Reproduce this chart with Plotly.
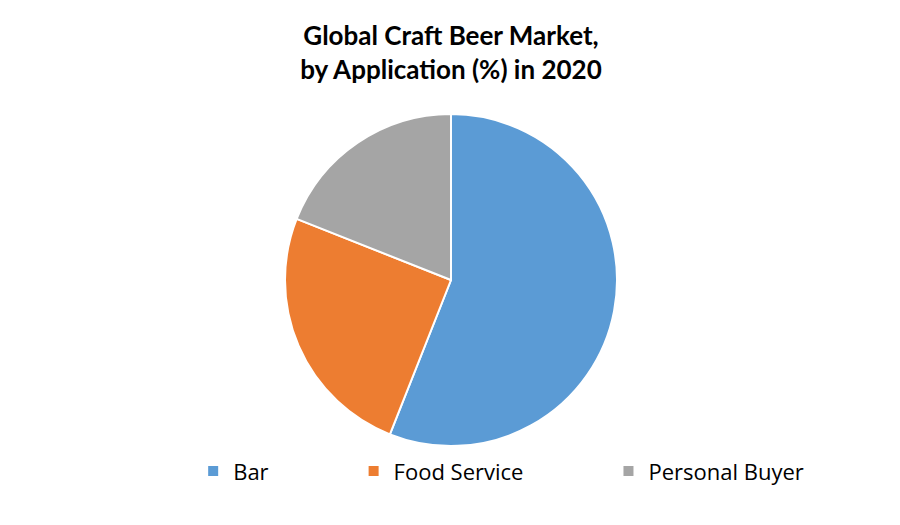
import plotly.graph_objects as go

# Application share (%)
applications = ["Bar", "Food Service", "Personal Buyer"]
shares = [56, 25, 19]
colors = ["#5B9BD5", "#ED7D31", "#A5A5A5"]

# the original legend leaves a wide gap after each entry, pad with nbsp to copy it
pad = "\u00a0" * 14
legend_labels = [applications[0] + pad, applications[1] + pad, applications[2]]

fig = go.Figure(go.Pie(
    labels=legend_labels,
    values=shares,
    customdata=applications,
    sort=False,
    direction="clockwise",
    rotation=0,
    textinfo="none",
    marker=dict(colors=colors, line=dict(color="white", width=2)),
    hovertemplate="%{customdata}: %{value}%<extra></extra>",
))

fig.update_layout(
    width=900,
    height=525,
    paper_bgcolor="white",
    plot_bgcolor="white",
    margin=dict(l=0, r=14, t=106, b=87),
    title=dict(
        text="<b>Global Craft Beer Market,<br>by Application (%) in 2020</b>",
        x=0.5,
        xanchor="center",
        xref="paper",
        y=0.929,
        yanchor="middle",
        font=dict(family="Lato", size=26, color="black"),
    ),
    legend=dict(
        orientation="h",
        x=0.209,
        xanchor="left",
        y=-0.076,
        yanchor="middle",
        font=dict(family="Open Sans", size=22, color="black"),
        itemwidth=30,
    ),
)

fig.write_html("out.html")
